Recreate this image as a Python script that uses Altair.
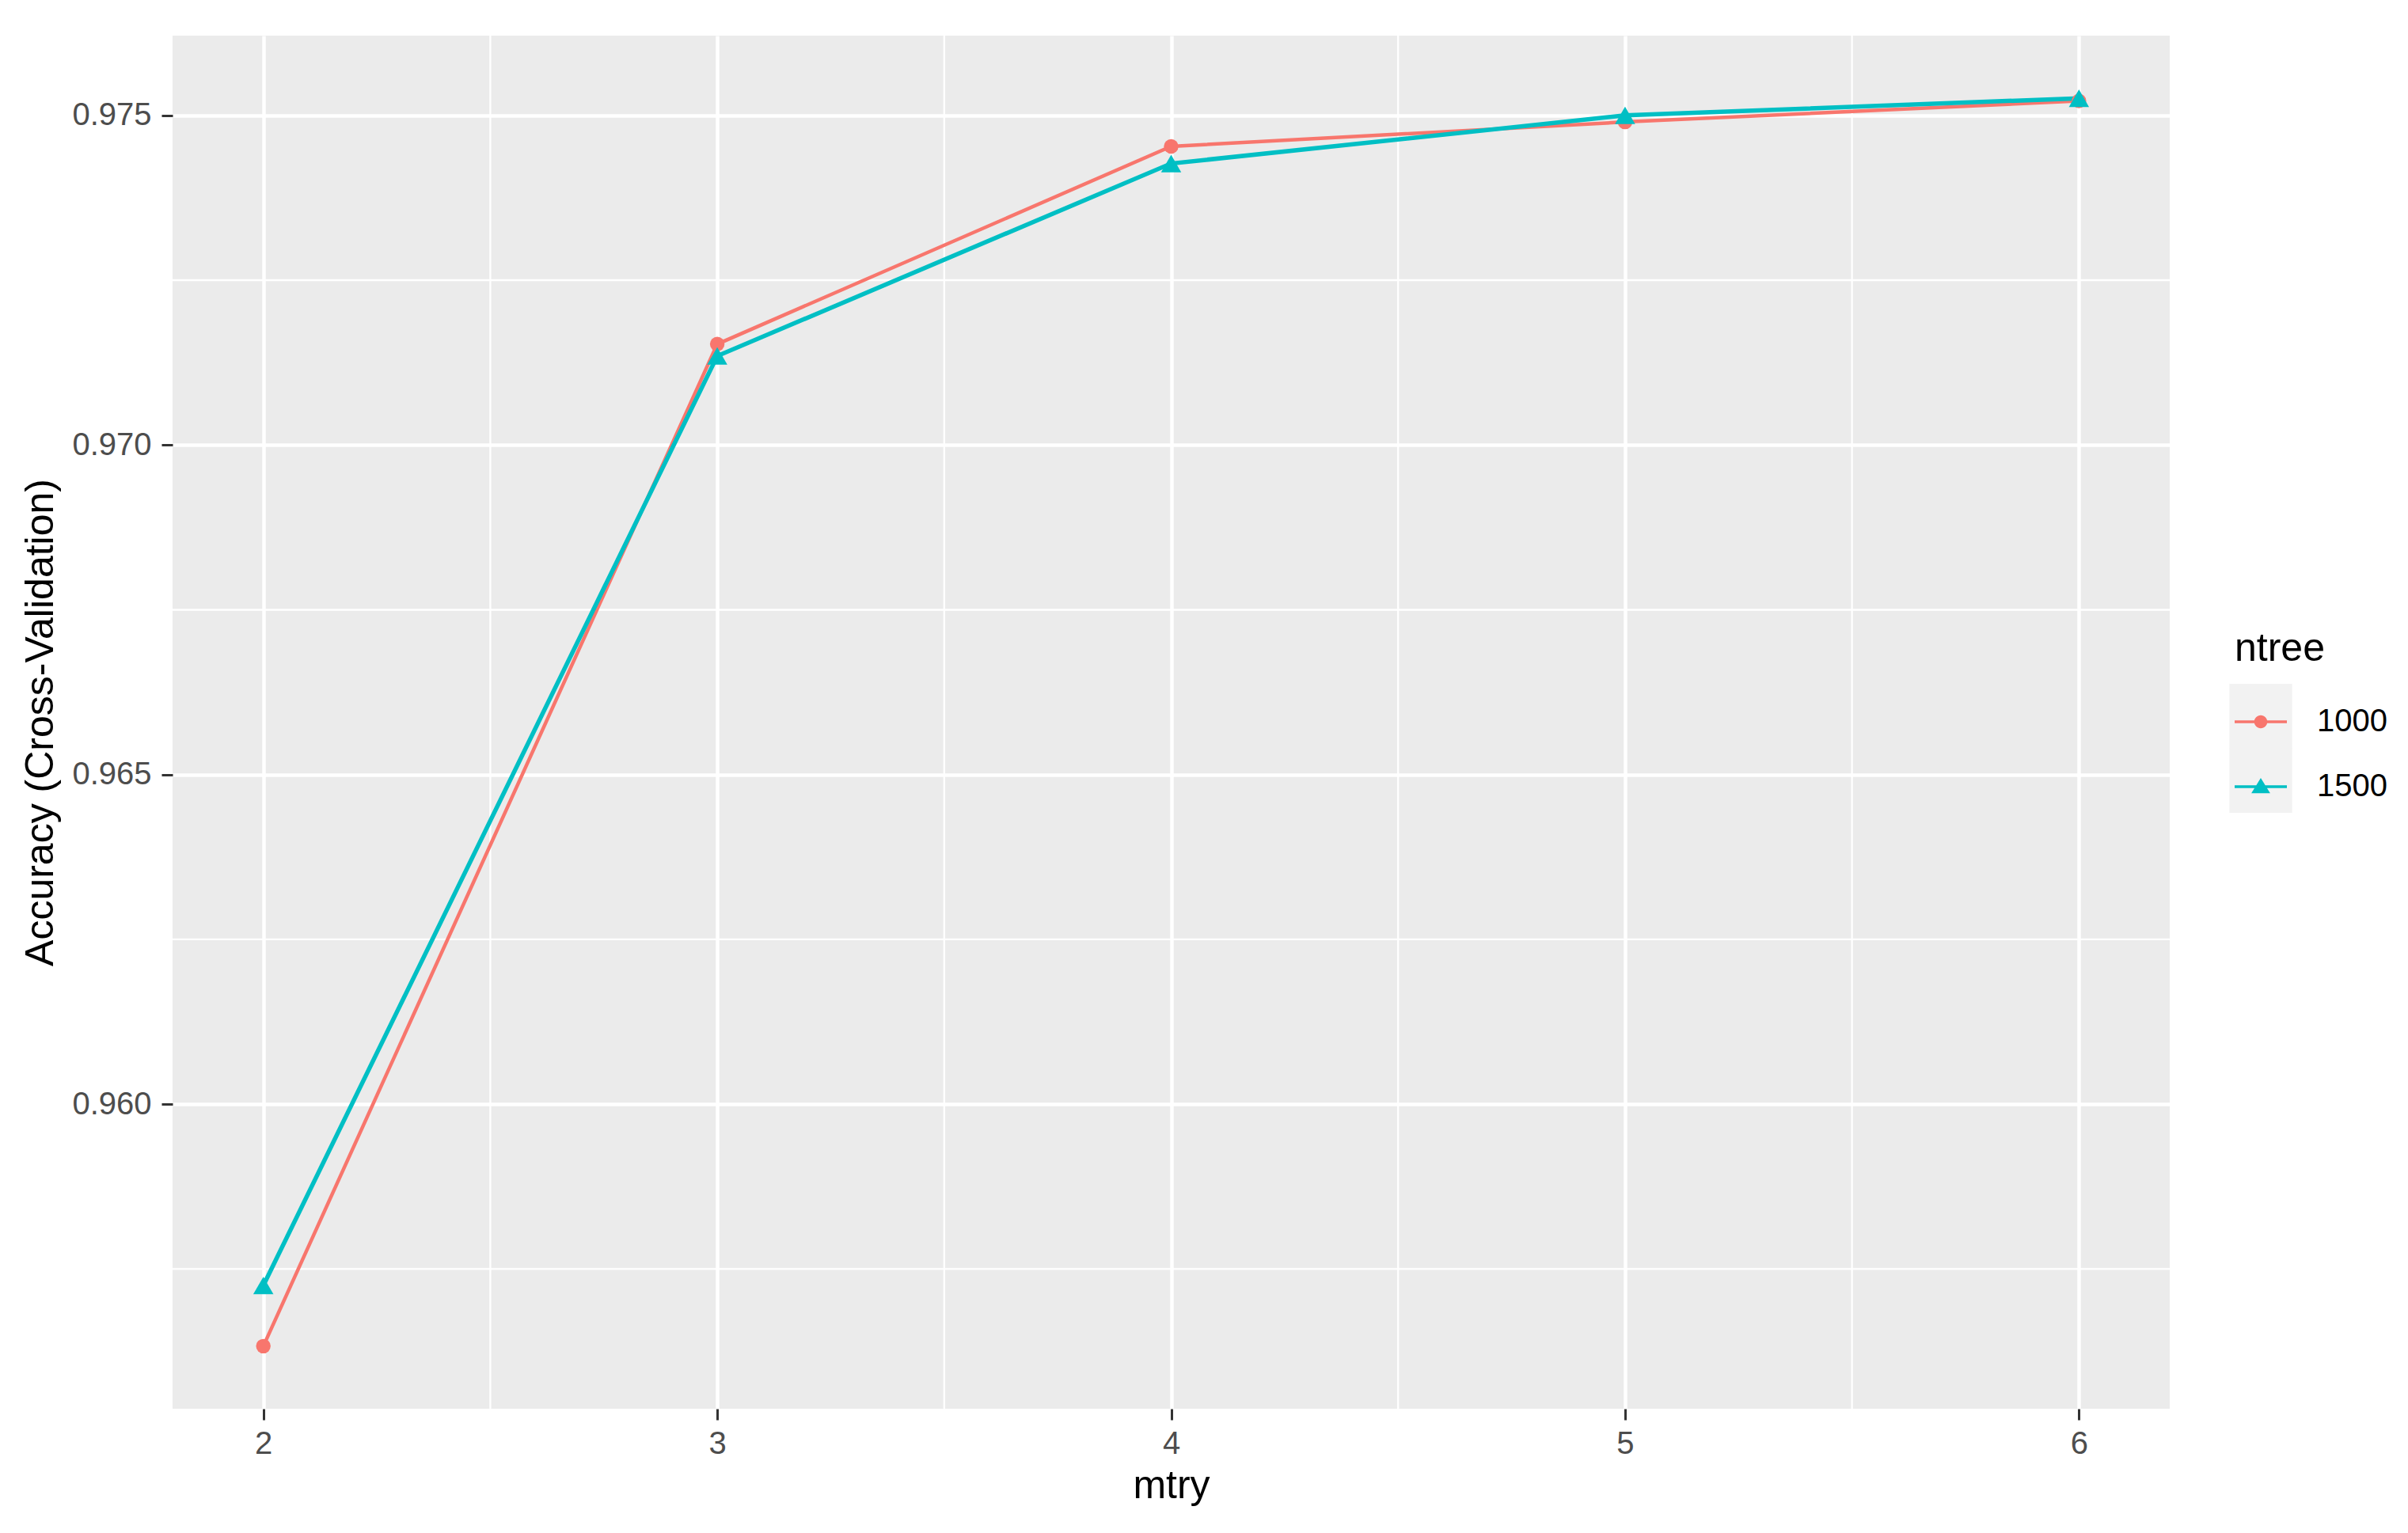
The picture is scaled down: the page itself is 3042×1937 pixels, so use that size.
import altair as alt
import pandas as pd

mtry = [2, 3, 4, 5, 6]
acc_1000 = [0.95633, 0.97153, 0.97453, 0.97490, 0.97522]
acc_1500 = [0.95725, 0.97135, 0.97427, 0.97500, 0.97526]
series = ["1000", "1500"]

x_ticks = [2, 3, 4, 5, 6]
y_ticks = [0.960, 0.965, 0.970, 0.975]
x_minor = [2.5, 3.5, 4.5, 5.5]
y_minor = [0.9575, 0.9625, 0.9675, 0.9725]

colors = ["#F8766D", "#00BFC4"]
key_fill = "#F2F2F2"

df = pd.DataFrame(
    {
        "mtry": mtry * 2,
        "acc": acc_1000 + acc_1500,
        "ntree": [series[0]] * len(mtry) + [series[1]] * len(mtry),
    }
)
df["key"] = df["ntree"] + " "
key_domain = [s + " " for s in series]
xm = pd.DataFrame({"v": x_minor})
ym = pd.DataFrame({"v": y_minor})

FONT = "Liberation Sans"

xscale = alt.Scale(domain=[1.8, 6.2], nice=False, zero=False)
yscale = alt.Scale(domain=[0.95538, 0.97621], nice=False, zero=False)
cscale = alt.Scale(domain=series, range=colors)

xaxis = alt.Axis(
    values=x_ticks, format="d", title="mtry", grid=True, gridColor="white",
    gridWidth=4.5, domain=False, tickColor="#333333", tickWidth=3, tickSize=14,
    labelColor="#4D4D4D", labelFontSize=40, labelFont=FONT, labelPadding=10,
    titleFont=FONT, titleFontSize=50, titleFontWeight="normal", titleColor="black",
    titlePadding=8,
)
yaxis = alt.Axis(
    values=y_ticks, format=".3f", title="Accuracy (Cross-Validation)", grid=True,
    gridColor="white", gridWidth=4.5, domain=False, tickColor="#333333",
    tickWidth=3, tickSize=14, labelColor="#4D4D4D", labelFontSize=40,
    labelFont=FONT, labelPadding=13, titleFont=FONT, titleFontSize=50,
    titleFontWeight="normal", titleColor="black", titlePadding=14,
)

minor_x = alt.Chart(xm).mark_rule(color="white", strokeWidth=2.3).encode(
    x=alt.X("v:Q", scale=xscale, axis=xaxis)
)
minor_y = alt.Chart(ym).mark_rule(color="white", strokeWidth=2.3).encode(
    y=alt.Y("v:Q", scale=yscale, axis=yaxis)
)

base = alt.Chart(df).encode(
    x=alt.X("mtry:Q", scale=xscale, axis=xaxis),
    y=alt.Y("acc:Q", scale=yscale, axis=yaxis),
)

s0 = base.transform_filter(alt.datum.ntree == series[0])
s1 = base.transform_filter(alt.datum.ntree == series[1])

line0 = s0.mark_line(color=colors[0], strokeWidth=4.5)
line1 = s1.mark_line(color=colors[1], strokeWidth=5.5)
pts0 = s0.mark_point(shape="circle", filled=True, size=340, opacity=1,
                     color=colors[0], strokeWidth=0)
pts1 = s1.mark_point(shape="triangle-up", filled=True, size=650, opacity=1,
                     color=colors[1], strokeWidth=0)

path_circle = (
    "M-1,-0.05H1V0.05H-1Z"
    "M-0.25,0A0.25,0.25 0 1,1 0.25,0A0.25,0.25 0 1,1 -0.25,0Z"
)
path_tri = "M-1,-0.05H1V0.05H-1ZM0,-0.33L0.36,0.25H-0.36Z"
path_keybox = "M-1.2,-1.242H1.2V1.242H-1.2Z"

COMMON = dict(
    orient="none", legendX=2605, padding=0,
    symbolSize=4356, symbolOpacity=1, symbolStrokeWidth=0,
    labelOffset=38, labelFont=FONT, labelFontSize=40,
)

# grey key background legend (drawn underneath, no title, no labels)
keybox_layer = base.transform_filter("false").mark_point(
    filled=True, strokeWidth=0, opacity=1
).encode(
    fill=alt.Fill(
        "key:N",
        scale=alt.Scale(domain=key_domain, range=[key_fill, key_fill]),
        title=None,
        legend=alt.Legend(
            symbolType=path_keybox, labelExpr="''", legendY=827,
            rowPadding=-1, zindex=0, **COMMON
        ),
    ),
)

# legend-only layer: no rows drawn, entries come from the scale domain
legend_layer = base.transform_filter("false").mark_point(
    filled=True, strokeWidth=0, opacity=1
).encode(
    color=alt.Color(
        "ntree:N",
        scale=cscale,
        title="ntree",
        legend=alt.Legend(
            legendY=750, rowPadding=29, titlePadding=34,
            titleFont=FONT, titleFontSize=50, titleFontWeight="normal",
            labelColor="black", titleColor="black", zindex=1, **COMMON
        ),
    ),
    shape=alt.Shape(
        "ntree:N",
        scale=alt.Scale(domain=series, range=[path_circle, path_tri]),
        title="ntree",
    ),
)

chart = (
    alt.layer(minor_x, minor_y, line0, line1, pts0, pts1, keybox_layer, legend_layer)
    .properties(
        width=2523,
        height=1735,
        autosize=alt.AutoSizeParams(type="none"),
        padding={"left": 210, "top": 37, "right": 280, "bottom": 130},
        background="white",
    )
    .configure_view(fill="#EBEBEB", stroke=None)
)

chart.save("out.html", embed_options={"renderer": "svg", "actions": False})
